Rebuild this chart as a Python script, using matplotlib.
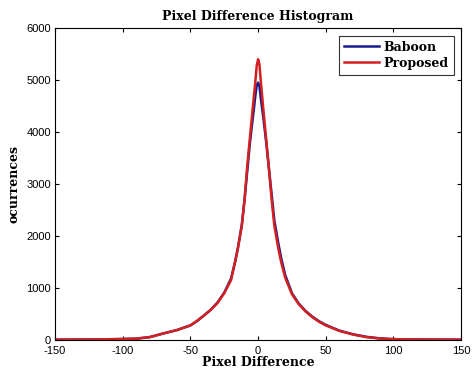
import numpy as np
import matplotlib
matplotlib.use("Agg")
import matplotlib.pyplot as plt

# pixel difference values
diff = np.array([-150, -120, -100, -90, -80, -70, -60, -50, -45, -40, -35, -30, -25,
                 -20, -17, -15, -12, -10, -8, -6, -4, -2, -1, 0, 1, 2, 4, 6, 8,
                 10, 12, 15, 17, 20, 25, 30, 35, 40, 45, 50, 60, 70, 80, 90, 100,
                 120, 150])

baboon = np.array([5, 10, 18, 25, 55, 125, 190, 280, 365, 470, 580, 720, 910,
                   1180, 1500, 1760, 2220, 2700, 3250, 3800, 4250, 4700, 4900, 4950,
                   4880, 4650, 4250, 3800, 3300, 2800, 2300, 1850, 1580, 1250, 900,
                   700, 560, 450, 360, 290, 180, 110, 60, 30, 15, 8, 5])

proposed = np.array([5, 10, 18, 25, 55, 125, 190, 280, 370, 470, 580, 710, 900,
                     1150, 1500, 1750, 2200, 2700, 3350, 3900, 4450, 4980, 5280, 5400,
                     5300, 4980, 4400, 3850, 3300, 2700, 2200, 1750, 1500, 1200, 880,
                     690, 550, 440, 350, 280, 175, 105, 55, 28, 15, 8, 5])

plt.rcParams['font.family'] = ['Liberation Sans', 'DejaVu Sans']
plt.rcParams['axes.unicode_minus'] = False

fig = plt.figure(figsize=(4.74, 3.79), dpi=100)
ax = fig.add_axes([0.116, 0.103, 0.857, 0.823])

ax.plot(diff, baboon, color='#1a1a8c', linewidth=1.8, label='Baboon')
ax.plot(diff, proposed, color='#d42020', linewidth=1.8, label='Proposed')

ax.set_xlim(-150, 150)
ax.set_ylim(0, 6000)
ax.set_xticks(np.arange(-150, 151, 50))
ax.set_yticks(np.arange(0, 6001, 1000))
ax.tick_params(direction='in', top=True, right=True, labelsize=8, length=3)
ax.tick_params(axis='x', pad=4)
ax.tick_params(axis='y', pad=3)

serif = dict(family='DejaVu Serif', weight='bold', size=9)
ax.set_title('Pixel Difference Histogram', fontdict=serif, pad=6)
ax.set_xlabel('Pixel Difference', fontdict=serif, labelpad=0)
ax.set_ylabel('ocurrences', fontdict=serif, labelpad=4)

leg = ax.legend(loc='upper right', fancybox=False, edgecolor='black',
                prop=dict(family='DejaVu Serif', weight='bold', size=9),
                handlelength=2.8, borderaxespad=0.6, labelspacing=0.25,
                handletextpad=0.4)
leg.get_frame().set_linewidth(0.8)

fig.savefig('out.png', dpi=100)
